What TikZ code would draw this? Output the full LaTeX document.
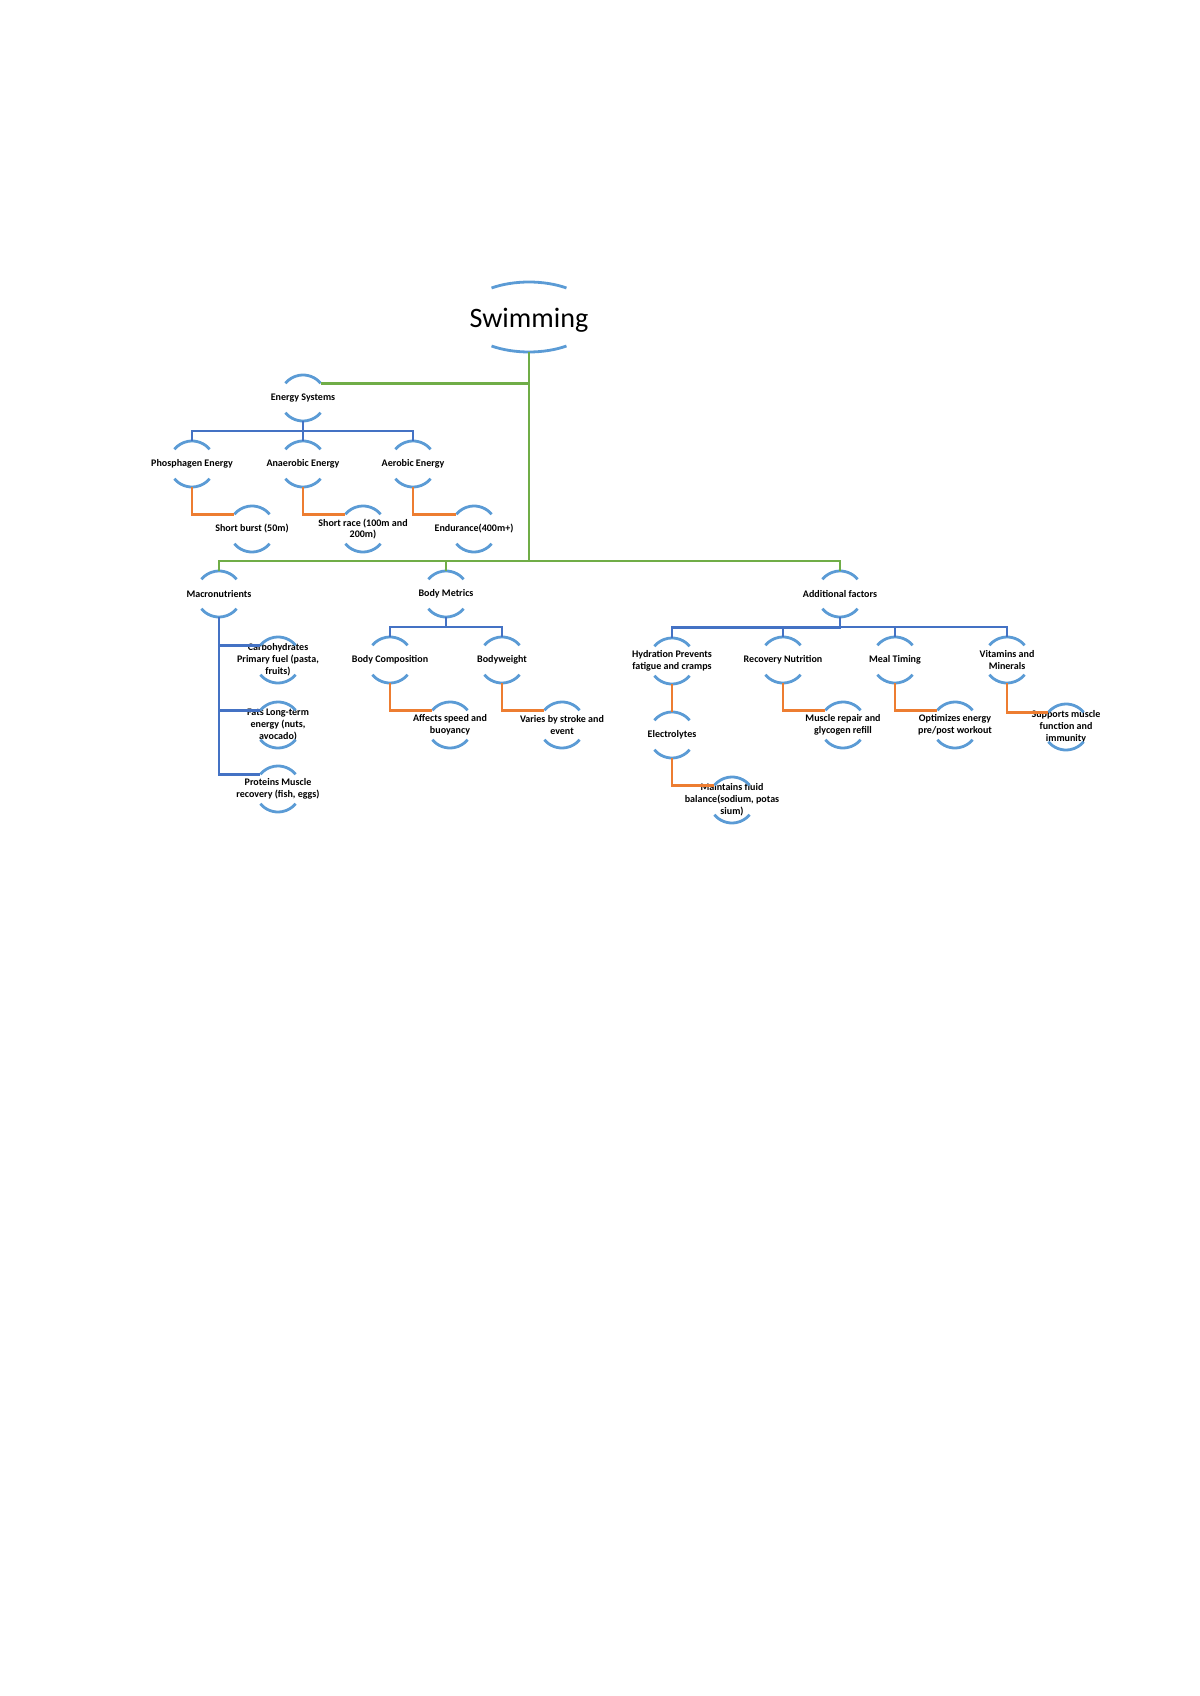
\documentclass[tikz,border=0pt]{standalone}
\usepackage{fontspec}
\setmainfont{Carlito}
\usepackage{tikz}
\usetikzlibrary{calc, shapes.geometric}
\definecolor{SArc}{RGB}{91,155,213}
\definecolor{SBlue}{RGB}{68,114,196}
\definecolor{SOrange}{RGB}{237,125,49}
\definecolor{SGreen}{RGB}{112,173,71}

\begin{document}
\begin{tikzpicture}[x=0.0175cm, y=0.0175cm,
      txt/.style={font=\fontsize{5}{5.9}\selectfont\bfseries, align=center, inner sep=0pt},
      bub/.style={circle, minimum size=0.805cm, inner sep=0pt, outer sep=0pt,
                  label={[txt]center:{#1}}},
      arcl/.style={draw=SArc, line width=1.4pt},
      grn/.style={draw=SGreen, line width=1.3pt},
      blu/.style={draw=SBlue, line width=1.3pt},
      orn/.style={draw=SOrange, line width=1.3pt}
    ]
    \useasboundingbox (0,0) rectangle (1200,-1696);

    % root
    \node[ellipse, minimum width=2.345cm, minimum height=1.225cm, inner sep=0pt,
          label={[font=\fontsize{14}{16}\selectfont, yshift=-0.06cm]center:Swimming}] (sw) at (529,-317) {};
    \draw[arcl] (sw.center) ++(56:1.1725cm and 0.6125cm)
          arc[start angle=56, end angle=124, x radius=1.1725cm, y radius=0.6125cm];
    \draw[arcl] (sw.center) ++(236:1.1725cm and 0.6125cm)
          arc[start angle=236, end angle=304, x radius=1.1725cm, y radius=0.6125cm];

    % energy systems
    \node[bub={Energy Systems}]        (es) at (303,-398) {};
    \node[bub={Phosphagen Energy}]     (pe) at (192,-464) {};
    \node[bub={Anaerobic Energy}]      (an) at (303,-464) {};
    \node[bub={Aerobic Energy}]        (ae) at (413,-464) {};
    \node[bub={Short burst (50m)}]     (sb) at (252,-529) {};
    \node[bub={Short race (100m and\\200m)}] (sr) at (363,-529) {};
    \node[bub={Endurance(400m+)}]      (en) at (474,-529) {};

    % second row
    \node[bub={Macronutrients}]        (mn) at (219,-594) {};
    \node[bub={Body Metrics}]          (bm) at (446,-594) {};
    \node[bub={Additional factors}]    (af) at (840,-594) {};

    \node[bub={Carbohydrates\\Primary fuel (pasta,\\fruits)}] (cf) at (278,-660) {};
    \node[bub={Fats Long-term\\energy (nuts,\\avocado)}]      (ft) at (278,-725) {};
    \node[bub={Proteins Muscle\\recovery (fish, eggs)}]       (pr) at (278,-789) {};

    \node[bub={Body Composition}]      (bc) at (390,-660) {};
    \node[bub={Bodyweight}]            (bw) at (502,-660) {};
    \node[bub={Affects speed and\\buoyancy}]     (as) at (450,-725) {};
    \node[bub={Varies by stroke and\\event}]     (vs) at (562,-725) {};

    \node[bub={Hydration Prevents\\fatigue and cramps}] (hy) at (672,-661) {};
    \node[bub={Recovery Nutrition}]    (rn) at (783,-660) {};
    \node[bub={Meal Timing}]           (mt) at (895,-660) {};
    \node[bub={Vitamins and\\Minerals}] (vm) at (1007,-660) {};
    \node[bub={Electrolytes}]          (el) at (672,-735) {};
    \node[bub={Maintains fluid\\balance(sodium, potas\\sium)}] (mf) at (732,-800) {};
    \node[bub={Muscle repair and\\glycogen refill}]   (mr) at (843,-725) {};
    \node[bub={Optimizes energy\\pre/post workout}]   (oe) at (955,-725) {};
    \node[bub={Supports muscle\\function and\\immunity}] (sm) at (1066,-727) {};

    \foreach \n in {es,pe,an,ae,sb,sr,en,mn,bm,af,cf,ft,pr,bc,bw,as,vs,hy,rn,mt,vm,el,mf,mr,oe,sm}{
      \draw[arcl] (\n.40) arc[start angle=40, end angle=140, radius=0.4025cm];
      \draw[arcl] (\n.220) arc[start angle=220, end angle=320, radius=0.4025cm];
    }

    % green trunk
    \coordinate (gbus) at (529,-561);
    \draw[grn] (sw.south) |- (es.40);
    \draw[grn] (sw.south) -- (gbus) -| (mn.north);
    \draw[grn] (gbus) -| (bm.north);
    \draw[grn] (gbus) -| (af.north);

    % blue buses
    \foreach \c in {pe,an,ae}
      \draw[blu] (es.south) |- ($(es)!.5!(\c)$) -| (\c.north);
    \foreach \c in {bc,bw}
      \draw[blu] (bm.south) |- ($(bm)!.5!(\c)$) -| (\c.north);
    \foreach \c in {hy,rn,mt,vm}
      \draw[blu] (af.south) |- ($(af)!.5!(\c)$) -| (\c.north);
    \foreach \c in {cf,ft,pr}
      \draw[blu] (mn.south) |- (\c.140);

    % orange elbows
    \foreach \p/\c in {pe/sb, an/sr, ae/en, bc/as, bw/vs, el/mf, rn/mr, mt/oe, vm/sm}
      \draw[orn] (\p.south) |- (\c.140);
    \draw[orn] (hy.south) -- (el.north);
  \end{tikzpicture}
\end{document}
